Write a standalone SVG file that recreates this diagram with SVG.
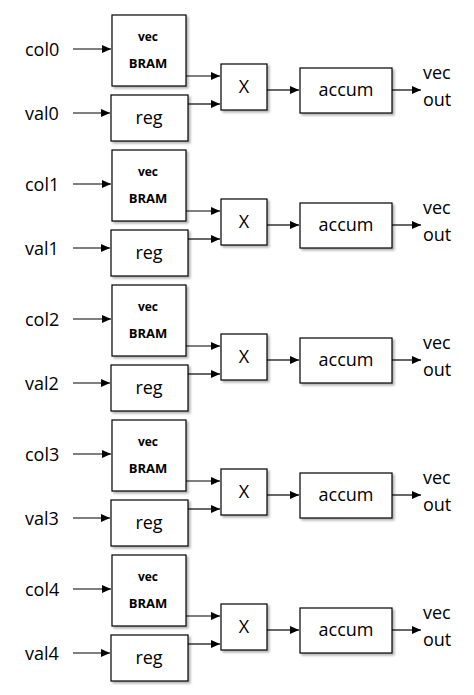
<svg xmlns="http://www.w3.org/2000/svg" width="474" height="695" viewBox="0 0 474 695">
<defs>
<filter id="sh" x="-10%" y="-10%" width="130%" height="130%"><feDropShadow dx="2" dy="2" stdDeviation="1" flood-color="#000" flood-opacity="0.3"/></filter>
<marker id="ah" markerWidth="9" markerHeight="8" refX="9" refY="4" orient="auto" markerUnits="userSpaceOnUse"><path d="M0,0 L9,4 L0,8 Z" fill="#000"/></marker>
</defs>
<style>
.b{fill:#fff;stroke:#000;stroke-width:1.2;filter:url(#sh)}
.t{font-family:"Open Sans","Liberation Sans",sans-serif;font-size:18px;fill:#000}
.m{text-anchor:middle}
.s{font-family:"Open Sans","Liberation Sans",sans-serif;font-weight:bold;font-size:13px;fill:#000;text-anchor:middle}
.v{font-size:12px}
.c{stroke:#000;stroke-width:1.2;fill:none;marker-end:url(#ah)}
</style>
<rect width="474" height="695" fill="#fff"/>
<g id="row0">
<g id="col0"><text class="t" x="25" y="56">col0</text></g>
<g id="val0"><text class="t" x="25" y="120">val0</text></g>
<g id="bram0"><rect class="b" x="112" y="15" width="74" height="71"/><text class="s v" x="148" y="41">vec</text><text class="s" x="148" y="68">BRAM</text></g>
<g id="reg0"><rect class="b" x="111" y="95" width="77" height="46"/><text class="t m" x="149" y="124">reg</text></g>
<g id="mul0"><rect class="b" x="221" y="64" width="46" height="46"/><text class="t m" x="244" y="93">X</text></g>
<g id="accum0"><rect class="b" x="300" y="68" width="92" height="45"/><text class="t m" x="346" y="96">accum</text></g>
<g id="out0"><text class="t" x="423" y="79">vec</text><text class="t" x="423" y="106">out</text></g>
</g>
<g id="row1">
<g id="col1"><text class="t" x="25" y="191">col1</text></g>
<g id="val1"><text class="t" x="25" y="255">val1</text></g>
<g id="bram1"><rect class="b" x="112" y="150" width="74" height="71"/><text class="s v" x="148" y="176">vec</text><text class="s" x="148" y="203">BRAM</text></g>
<g id="reg1"><rect class="b" x="111" y="230" width="77" height="46"/><text class="t m" x="149" y="259">reg</text></g>
<g id="mul1"><rect class="b" x="221" y="199" width="46" height="46"/><text class="t m" x="244" y="228">X</text></g>
<g id="accum1"><rect class="b" x="300" y="203" width="92" height="45"/><text class="t m" x="346" y="231">accum</text></g>
<g id="out1"><text class="t" x="423" y="214">vec</text><text class="t" x="423" y="241">out</text></g>
</g>
<g id="row2">
<g id="col2"><text class="t" x="25" y="326">col2</text></g>
<g id="val2"><text class="t" x="25" y="390">val2</text></g>
<g id="bram2"><rect class="b" x="112" y="285" width="74" height="71"/><text class="s v" x="148" y="311">vec</text><text class="s" x="148" y="338">BRAM</text></g>
<g id="reg2"><rect class="b" x="111" y="365" width="77" height="46"/><text class="t m" x="149" y="394">reg</text></g>
<g id="mul2"><rect class="b" x="221" y="334" width="46" height="46"/><text class="t m" x="244" y="363">X</text></g>
<g id="accum2"><rect class="b" x="300" y="338" width="92" height="45"/><text class="t m" x="346" y="366">accum</text></g>
<g id="out2"><text class="t" x="423" y="349">vec</text><text class="t" x="423" y="376">out</text></g>
</g>
<g id="row3">
<g id="col3"><text class="t" x="25" y="461">col3</text></g>
<g id="val3"><text class="t" x="25" y="525">val3</text></g>
<g id="bram3"><rect class="b" x="112" y="420" width="74" height="71"/><text class="s v" x="148" y="446">vec</text><text class="s" x="148" y="473">BRAM</text></g>
<g id="reg3"><rect class="b" x="111" y="500" width="77" height="46"/><text class="t m" x="149" y="529">reg</text></g>
<g id="mul3"><rect class="b" x="221" y="469" width="46" height="46"/><text class="t m" x="244" y="498">X</text></g>
<g id="accum3"><rect class="b" x="300" y="473" width="92" height="45"/><text class="t m" x="346" y="501">accum</text></g>
<g id="out3"><text class="t" x="423" y="484">vec</text><text class="t" x="423" y="511">out</text></g>
</g>
<g id="row4">
<g id="col4"><text class="t" x="25" y="596">col4</text></g>
<g id="val4"><text class="t" x="25" y="660">val4</text></g>
<g id="bram4"><rect class="b" x="112" y="555" width="74" height="71"/><text class="s v" x="148" y="581">vec</text><text class="s" x="148" y="608">BRAM</text></g>
<g id="reg4"><rect class="b" x="111" y="635" width="77" height="46"/><text class="t m" x="149" y="664">reg</text></g>
<g id="mul4"><rect class="b" x="221" y="604" width="46" height="46"/><text class="t m" x="244" y="633">X</text></g>
<g id="accum4"><rect class="b" x="300" y="608" width="92" height="45"/><text class="t m" x="346" y="636">accum</text></g>
<g id="out4"><text class="t" x="423" y="619">vec</text><text class="t" x="423" y="646">out</text></g>
</g>
<g id="connectors">
<path class="c" d="M73,49 H111"/><path class="c" d="M73,113 H110"/><path class="c" d="M186,76 H220"/><path class="c" d="M188,104 H220"/><path class="c" d="M267,90 H299"/><path class="c" d="M392,90 H421"/>
<path class="c" d="M73,184 H111"/><path class="c" d="M73,248 H110"/><path class="c" d="M186,211 H220"/><path class="c" d="M188,239 H220"/><path class="c" d="M267,225 H299"/><path class="c" d="M392,225 H421"/>
<path class="c" d="M73,319 H111"/><path class="c" d="M73,383 H110"/><path class="c" d="M186,346 H220"/><path class="c" d="M188,374 H220"/><path class="c" d="M267,360 H299"/><path class="c" d="M392,360 H421"/>
<path class="c" d="M73,454 H111"/><path class="c" d="M73,518 H110"/><path class="c" d="M186,481 H220"/><path class="c" d="M188,509 H220"/><path class="c" d="M267,495 H299"/><path class="c" d="M392,495 H421"/>
<path class="c" d="M73,589 H111"/><path class="c" d="M73,653 H110"/><path class="c" d="M186,616 H220"/><path class="c" d="M188,644 H220"/><path class="c" d="M267,630 H299"/><path class="c" d="M392,630 H421"/>
</g>
</svg>
